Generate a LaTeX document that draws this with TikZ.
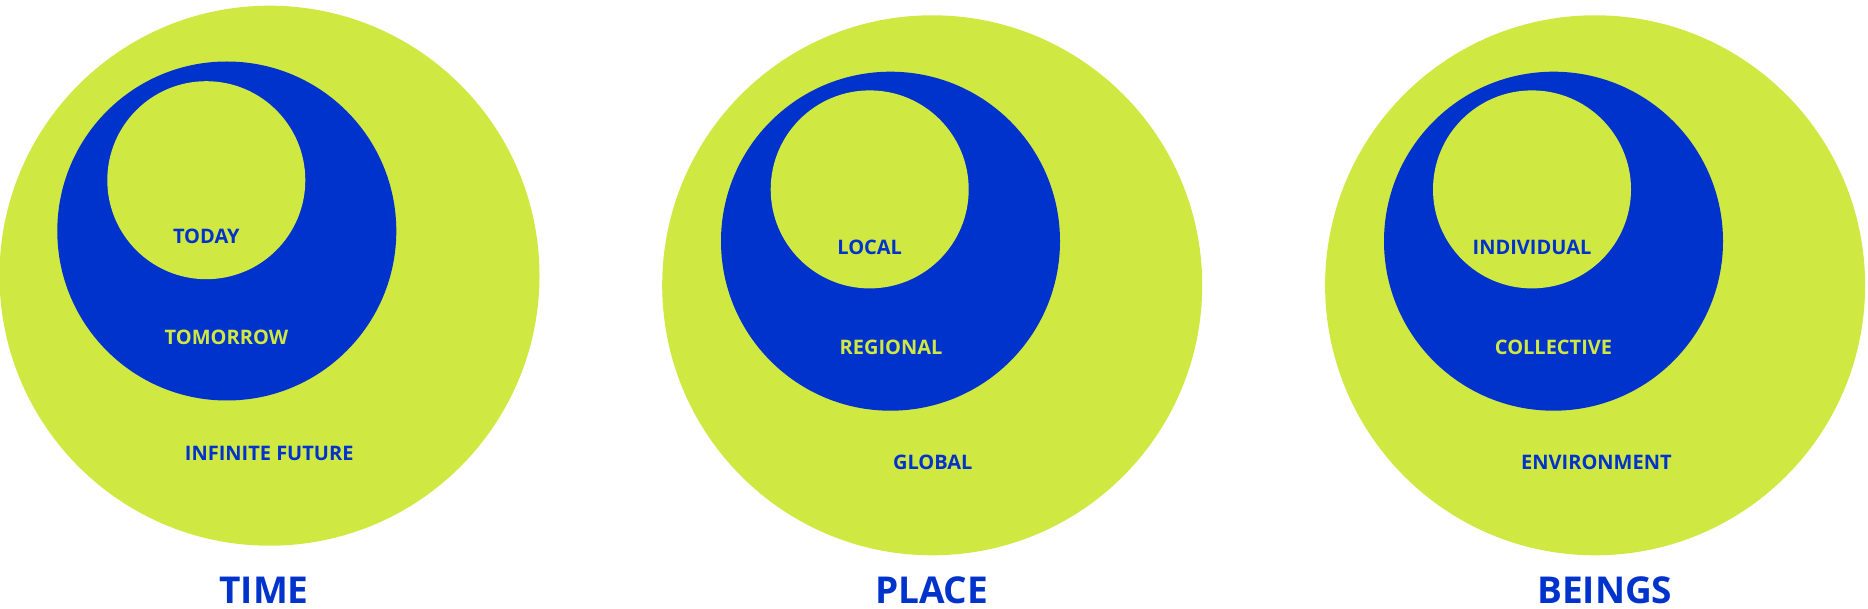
\documentclass[tikz,border=0pt]{standalone}
\usepackage{fontspec}
\setmainfont{Open Sans}
\definecolor{lime}{RGB}{208,232,66}
\definecolor{royal}{RGB}{0,50,204}
\begin{document}
\begin{tikzpicture}[x=1pt,y=-1pt,
  disc/.style={circle,inner sep=0pt,outer sep=0pt},
  outerdisc/.style={disc,fill=lime,minimum size=540pt},
  middisc/.style={disc,fill=royal,minimum size=339pt},
  innerdisc/.style={disc,fill=lime,minimum size=198pt},
  lbl/.style={font=\fontsize{20}{24}\selectfont\bfseries,inner sep=0pt},
  lblblue/.style={lbl,text=royal},
  lblgreen/.style={lbl,text=lime},
  title/.style={font=\fontsize{37}{44}\selectfont\bfseries,text=royal,inner sep=0pt}]
\useasboundingbox (0,0) rectangle (1868,609);
% TIME
\node[outerdisc] (o1) at (269.5,275.7) {};
\node[middisc] (m1) at (226.8,231) {};
\node[innerdisc] (i1) at (206.3,180.2) {};
\node[lblblue] (t1a) at (206.3,236.5) {TODAY};
\node[lblgreen] (t1b) at (226.4,337.5) {TOMORROW};
\node[lblblue] (t1c) at (269.2,453) {INFINITE FUTURE};
\node[title] (h1) at (264,590) {TIME};
% PLACE
\node[outerdisc] (o2) at (932.2,285.3) {};
\node[middisc] (m2) at (890.5,241.2) {};
\node[innerdisc] (i2) at (869.7,189.4) {};
\node[lblblue] (t2a) at (869.7,247) {LOCAL};
\node[lblgreen] (t2b) at (891.1,347) {REGIONAL};
\node[lblblue] (t2c) at (932.8,462.5) {GLOBAL};
\node[title] (h2) at (931.6,590) {PLACE};
% BEINGS
\node[outerdisc] (o3) at (1595.1,285.3) {};
\node[middisc] (m3) at (1553.5,241.2) {};
\node[innerdisc] (i3) at (1532,189.4) {};
\node[lblblue] (t3a) at (1532,247) {INDIVIDUAL};
\node[lblgreen] (t3b) at (1553.5,347) {COLLECTIVE};
\node[lblblue] (t3c) at (1596.4,462.5) {ENVIRONMENT};
\node[title] (h3) at (1604.7,590) {BEINGS};
\end{tikzpicture}
\end{document}
